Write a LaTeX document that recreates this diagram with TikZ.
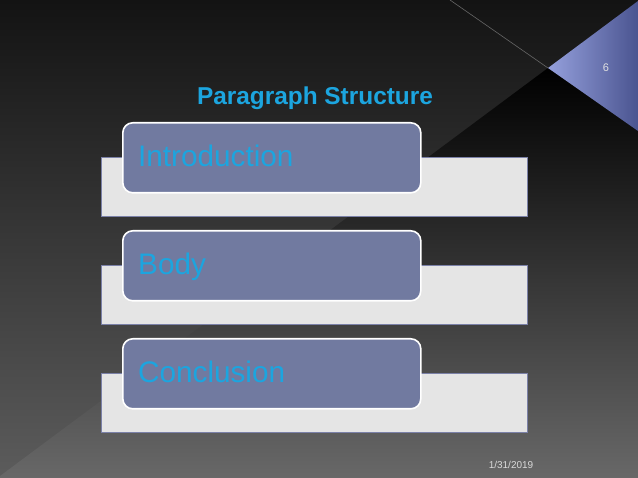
\documentclass[tikz,border=0pt]{standalone}
\usepackage{fontspec}
\setmainfont{Liberation Sans}
\definecolor{cyanT}{HTML}{1CA5DF}
\definecolor{boxblue}{HTML}{717AA0}
\definecolor{boxgray}{HTML}{E5E5E5}
\definecolor{boxedge}{HTML}{7B81A8}
\definecolor{bgA}{HTML}{131313}
\definecolor{bgB}{HTML}{5C5C5C}
\definecolor{bgC}{HTML}{686868}
\definecolor{triL}{HTML}{95A0DC}
\definecolor{triR}{HTML}{4A5490}
\begin{document}
\begin{tikzpicture}[x=1pt,y=-1pt,
  graybox/.style={draw=boxedge,line width=1.2pt,fill=boxgray,minimum width=426pt,minimum height=59pt,inner sep=0pt,anchor=north west},
  bluebox/.style={draw=white,line width=1.6pt,fill=boxblue,rounded corners=10pt,minimum width=298pt,minimum height=70pt,inner sep=0pt,anchor=north west},
  itemtext/.style={text=cyanT,font=\fontsize{29.7}{32}\selectfont,anchor=base west,inner sep=0pt}]
\useasboundingbox (0,0) rectangle (638,478);
% background
\shade[top color=bgA,middle color=bgA,bottom color=bgB] (0,0) rectangle (638,478);
\shade[top color=black,middle color=black,bottom color=bgC] (548,68) -- (638,130) -- (638,478) -- (0,478) -- (0,476) -- cycle;
\shade[left color=triL,right color=triR] (548,68) -- (638,1) -- (638,131) -- cycle;
\coordinate (lnA) at (450,0);
\coordinate (lnB) at (548,68);
\draw[color=black!60!white,line width=0.6pt] (lnA) -- (lnB);
% title
\node[text=cyanT,font=\bfseries\fontsize{24.4}{26}\selectfont,anchor=base,inner sep=0pt] (title) at (315,105) {Paragraph Structure};
\node[text=white!88!black,font=\fontsize{11}{12}\selectfont,inner sep=0pt] (num) at (606,68) {6};
\node[text=white!85!black,font=\fontsize{10}{12}\selectfont,inner sep=0pt] (date) at (511,465) {1/31/2019};
% boxes
\node[graybox] (g1) at (101,157) {};
\node[bluebox] (b1) at (122,122) {};
\node[itemtext] (t1) at (138,167) {Introduction};
\node[graybox] (g2) at (101,265) {};
\node[bluebox] (b2) at (122,230) {};
\node[itemtext] (t2) at (138,275) {Body};
\node[graybox] (g3) at (101,373) {};
\node[bluebox] (b3) at (122,338) {};
\node[itemtext] (t3) at (138,383) {Conclusion};
\end{tikzpicture}
\end{document}
